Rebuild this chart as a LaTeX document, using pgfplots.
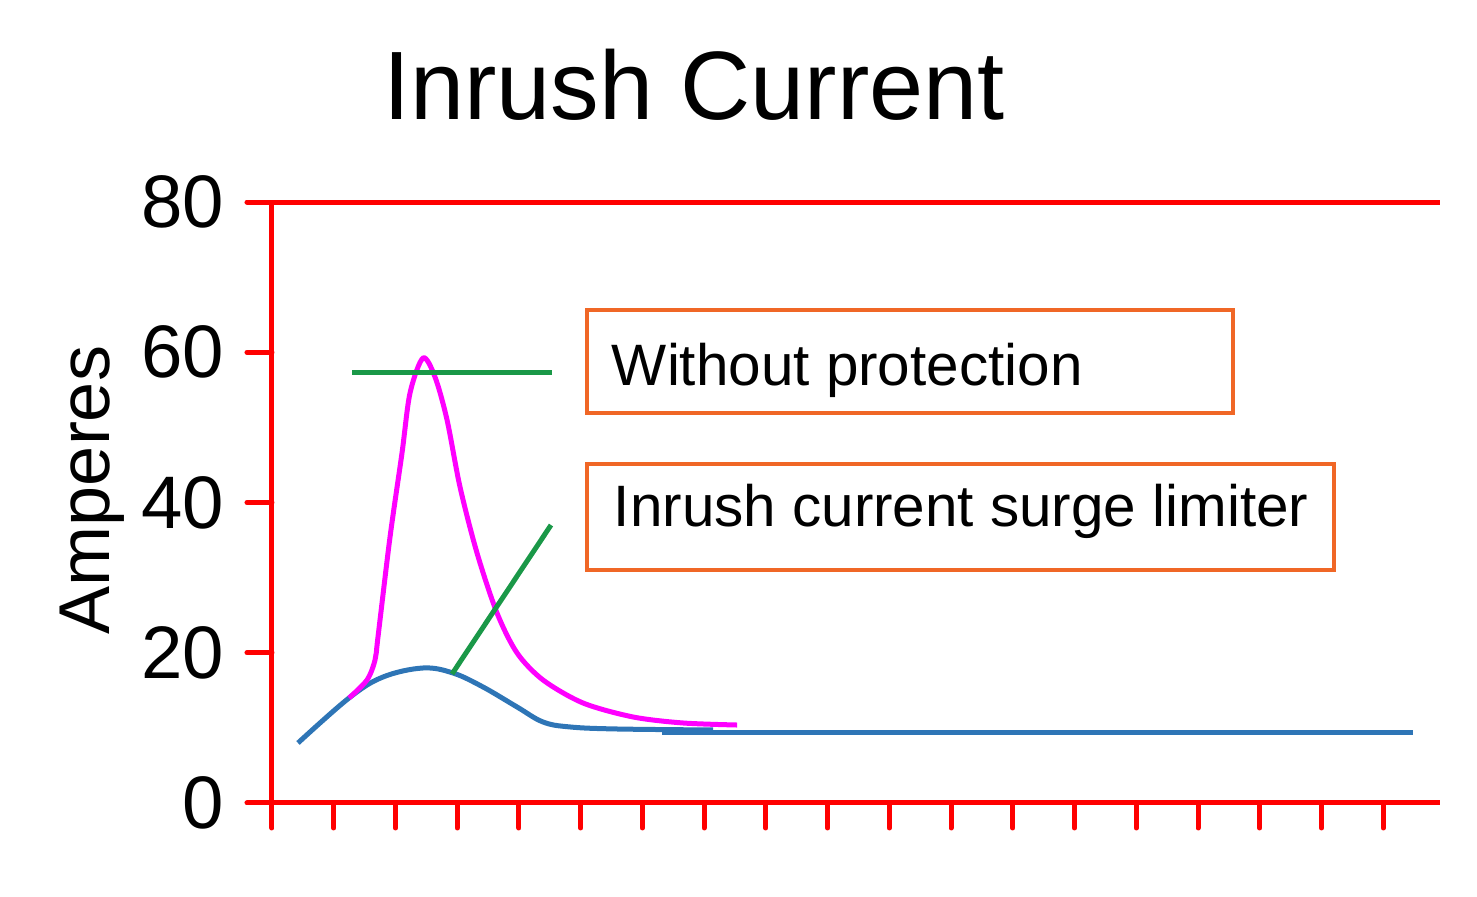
\documentclass[border=0pt]{standalone}
\usepackage{pgfplots}
\pgfplotsset{compat=1.18}
\usepackage{fontspec}
\setmainfont{Liberation Sans}
\definecolor{axred}{RGB}{255,0,0}
\definecolor{pinkc}{RGB}{255,0,255}
\definecolor{bluec}{RGB}{46,117,182}
\definecolor{greenc}{RGB}{26,152,72}
\definecolor{boxorange}{RGB}{240,103,38}
\begin{document}
\begin{tikzpicture}
\useasboundingbox (-68pt,-23.5pt) rectangle (301.25pt,200.75pt);
\begin{axis}[
  at={(0pt,0pt)}, anchor=south west,
  scale only axis, width=292pt, height=150.25pt,
  xmin=0, xmax=18.92, ymin=0, ymax=80,
  axis lines*=left,
  axis line style={draw=axred, line width=1.25pt, -},
  xtick={0,...,18}, xticklabels={},
  ytick={0,20,40,60,80},
  tick align=outside, major tick length=6.25pt,
  tick style={draw=axred, line width=1.25pt, line cap=round},
  yticklabel style={font=\fontsize{18.6}{21}\selectfont, xshift=-2.2pt},
  /pgf/number format/assume math mode=true,
  clip=false,
]
\draw[axred, line width=1.25pt] (axis cs:0,80) -- (axis cs:18.92,80);
% blue (with surge limiter)
\addplot[bluec, line width=1.25pt, smooth, tension=0.6] coordinates {
 (0.421,7.99) (1.248,13.98) (1.798,16.77) (2.447,17.97) (2.933,17.30)
 (3.419,15.44) (3.970,12.78) (4.391,10.78) (4.828,10.12) (5.590,9.85) (7.145,9.72)};
\addplot[bluec, line width=1.25pt] coordinates {(6.319,9.32) (18.487,9.32)};
% pink (without protection)
\addplot[pinkc, line width=1.25pt, smooth, tension=0.5] coordinates {
 (1.248,13.98) (1.539,16.37) (1.669,19.03) (1.717,22.10) (1.912,35.41)
 (2.106,46.59) (2.236,54.58) (2.447,59.23) (2.641,56.70) (2.836,50.98)
 (3.046,42.06) (3.321,33.28) (3.645,25.29) (3.970,19.97) (4.391,16.37)
 (5.039,13.31) (5.849,11.45) (6.659,10.65) (7.534,10.38)};
% green pointer lines
\addplot[greenc, line width=1.25pt] coordinates {(1.296,57.37) (4.537,57.37)};
\addplot[greenc, line width=1.25pt] coordinates {(2.916,17.17) (4.520,37.00)};
% boxes
\draw[boxorange, line width=1.1pt] (axis cs:5.104,65.62) rectangle (axis cs:15.570,51.91);
\node[anchor=base west, inner sep=0pt, font=\fontsize{14.6}{17}\selectfont] at (axis cs:5.493,55.64) {Without protection};
\draw[boxorange, line width=1.1pt] (axis cs:5.104,45.12) rectangle (axis cs:17.207,31.01);
\node[anchor=base west, inner sep=0pt, font=\fontsize{14.6}{17}\selectfont] at (axis cs:5.525,36.74) {Inrush current surge limiter};
\end{axis}
\node[anchor=base, inner sep=0pt, font=\fontsize{24.3}{29}\selectfont] at (105.5pt,170.75pt) {Inrush Current};
\node[rotate=90, anchor=base, inner sep=0pt, font=\fontsize{18}{21}\selectfont] at (-40.5pt,78.25pt) {Amperes};
\end{tikzpicture}
\end{document}
